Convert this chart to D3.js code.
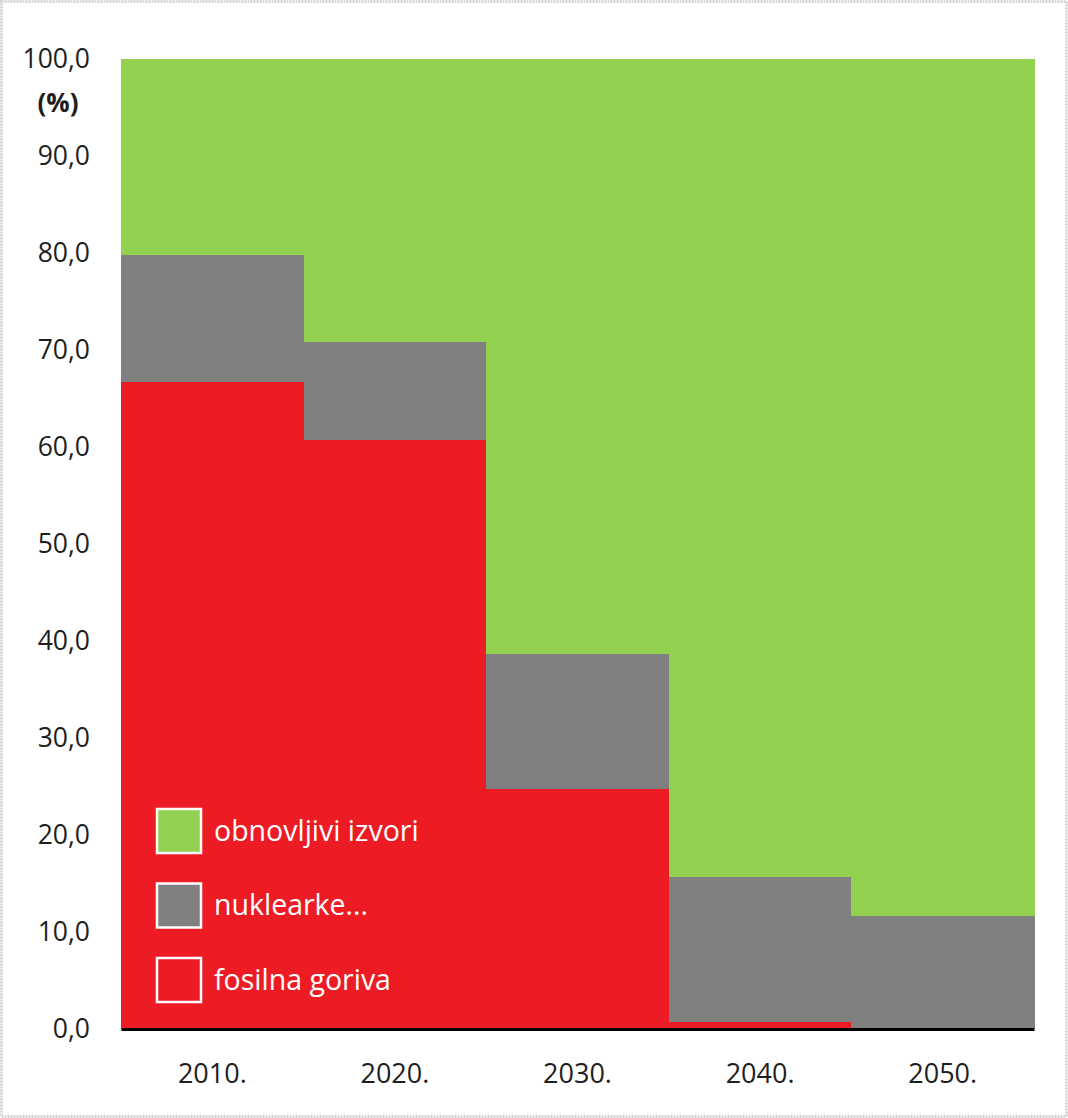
<!DOCTYPE html>
<html>
<head>
<meta charset="utf-8">
<script src="https://cdnjs.cloudflare.com/ajax/libs/d3/7.8.5/d3.min.js"></script>
<style>
  body { margin: 0; background: #fff; }
  svg { display: block; font-family: "Open Sans", "Noto Sans", sans-serif; }
  .tick text { fill: #1e1e1e; }
</style>
</head>
<body>
<div id="chart"></div>
<script>
// data
const years = ["2010.", "2020.", "2030.", "2040.", "2050."];
const fosilna = [66.7, 60.7, 24.7, 0.7, 0.0];
const nuklearke = [13.1, 10.1, 14.0, 15.0, 11.7];
const obnovljivi = [20.2, 29.2, 61.3, 84.3, 88.3];
const yTicks = [0, 10, 20, 30, 40, 50, 60, 70, 80, 90, 100];

const seriesNames = ["fosilna goriva", "nuklearke...", "obnovljivi izvori"];
const colours = ["#ed1c24", "#808080", "#92d050"];

const width = 1068, height = 1118;
const margin = { top: 59, right: 34, bottom: 89, left: 121 };
const innerWidth = width - margin.left - margin.right;
const innerHeight = height - margin.top - margin.bottom;

const table = years.map((y, i) => ({
    year: y,
    "fosilna goriva": fosilna[i],
    "nuklearke...": nuklearke[i],
    "obnovljivi izvori": obnovljivi[i]
}));
const stacked = d3.stack().keys(seriesNames)(table);

const svg = d3.select("#chart")
    .append("svg")
    .attr("width", width)
    .attr("height", height);

// outer frame
svg.append("rect")
    .attr("x", 1.5).attr("y", 1.5)
    .attr("width", width - 3).attr("height", height - 3)
    .attr("fill", "none")
    .attr("stroke", "#d8d4d1")
    .attr("stroke-width", 3)
    .attr("stroke-dasharray", "2,1");

const innerChart = svg.append("g")
    .attr("transform", `translate(${margin.left},${margin.top})`);

const xScale = d3.scaleBand().domain(years).range([0, innerWidth]).padding(0);
const yScale = d3.scaleLinear().domain([0, 100]).range([innerHeight, 0]);

// bars
innerChart.selectAll("g.layer")
    .data(stacked)
    .join("g")
        .attr("class", "layer")
        .attr("fill", (d, i) => colours[i])
    .selectAll("rect")
    .data(d => d)
    .join("rect")
        .attr("x", d => xScale(d.data.year))
        .attr("y", d => yScale(d[1]))
        .attr("width", xScale.bandwidth() + 1)
        .attr("height", d => yScale(d[0]) - yScale(d[1]))
        .attr("shape-rendering", "crispEdges");

// bottom axis
const bottomAxis = d3.axisBottom(xScale).tickSize(0).tickPadding(35);
const bAxis = innerChart.append("g")
    .attr("transform", `translate(0,${innerHeight})`)
    .call(bottomAxis);
bAxis.select(".domain").attr("stroke", "#000").attr("stroke-width", 3);
bAxis.selectAll("text").attr("font-size", 27).attr("font-family", "Open Sans, sans-serif");

// left axis
const leftAxis = d3.axisLeft(yScale)
    .tickValues(yTicks)
    .tickSize(0)
    .tickPadding(31)
    .tickFormat(d => d3.format(".1f")(d).replace(".", ","));
const lAxis = innerChart.append("g").call(leftAxis);
lAxis.select(".domain").remove();
lAxis.selectAll("text").attr("font-size", 26.5).attr("font-family", "Open Sans, sans-serif");

svg.append("text")
    .text("(%)")
    .attr("x", 58)
    .attr("y", 112)
    .attr("text-anchor", "middle")
    .attr("font-size", 26)
    .attr("font-weight", "bold")
    .attr("fill", "#1e1e1e");

// legend
const legendOrder = [2, 1, 0];
const legend = svg.append("g").attr("transform", "translate(157,809)");
legendOrder.forEach((k, i) => {
    const g = legend.append("g").attr("transform", `translate(0,${i * 74.5})`);
    g.append("rect")
        .attr("width", 44).attr("height", 44)
        .attr("fill", colours[k])
        .attr("stroke", "#fff")
        .attr("stroke-width", 2.5);
    g.append("text")
        .text(seriesNames[k])
        .attr("x", 57)
        .attr("y", 22)
        .attr("dy", "0.35em")
        .attr("font-size", 28.5)
        .attr("fill", "#fff");
});
</script>
</body>
</html>
